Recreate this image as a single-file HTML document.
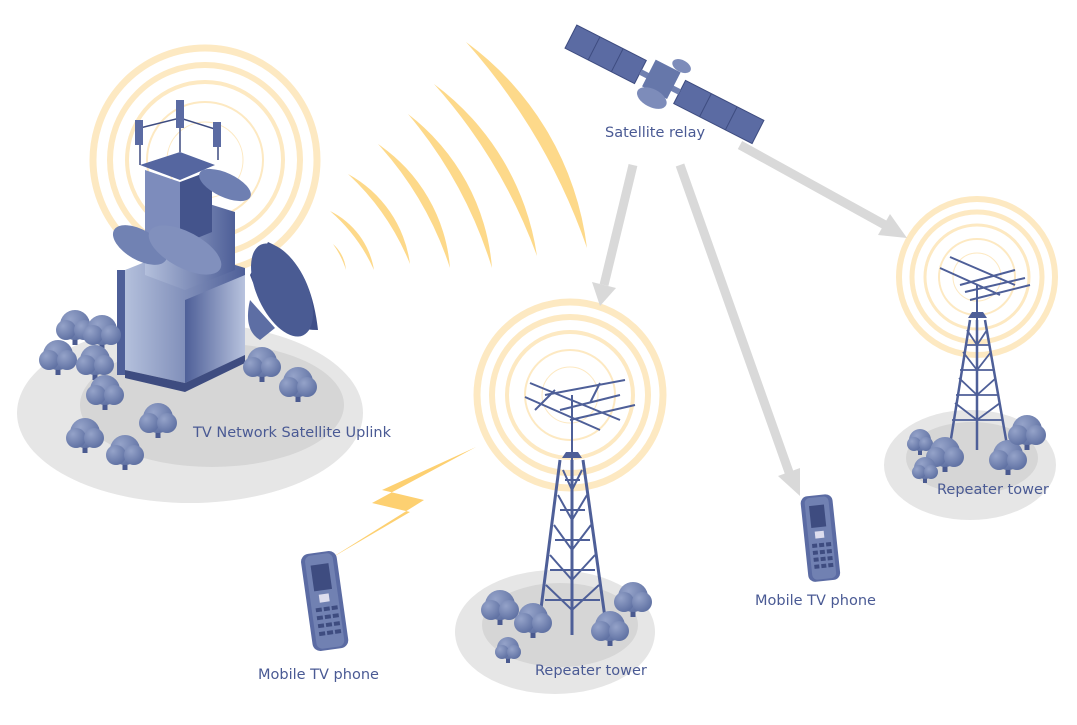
<!DOCTYPE html>
<html><head><meta charset="utf-8"><style>
html,body{margin:0;padding:0;background:#fff}
svg{display:block}
text{font-family:"DejaVu Sans","Liberation Sans",sans-serif;font-size:14.5px;fill:#4a5a94}
</style></head><body>
<svg width="1077" height="725" viewBox="0 0 1077 725" xmlns="http://www.w3.org/2000/svg">
<defs>
<linearGradient id="bl" x1="0" y1="0" x2="1" y2="0"><stop offset="0" stop-color="#b4c0dc"/><stop offset="1" stop-color="#4e5f98"/></linearGradient>
<linearGradient id="br" x1="0" y1="0" x2="1" y2="0"><stop offset="0" stop-color="#4e5f98"/><stop offset="1" stop-color="#b8c3de"/></linearGradient>
<radialGradient id="tr" cx="0.35" cy="0.3" r="0.8"><stop offset="0" stop-color="#95a3c9"/><stop offset="1" stop-color="#5a6c9f"/></radialGradient>
<g id="tree"><rect x="-2.5" y="8" width="5" height="12" fill="#4a5a90"/><circle cx="0" cy="0" r="15" fill="url(#tr)"/><circle cx="-9" cy="5" r="10" fill="url(#tr)"/><circle cx="9" cy="5" r="10" fill="url(#tr)"/></g>
<g id="stree"><rect x="-2" y="6" width="4" height="9" fill="#4a5a90"/><circle cx="0" cy="0" r="11" fill="url(#tr)"/><circle cx="-6" cy="4" r="7" fill="url(#tr)"/><circle cx="6" cy="4" r="7" fill="url(#tr)"/></g>
</defs>

<ellipse cx="190" cy="413" rx="173" ry="90" fill="#e6e6e6"/>
<ellipse cx="212" cy="405" rx="132" ry="62" fill="#d6d6d6"/>
<ellipse cx="555" cy="632" rx="100" ry="62" fill="#e6e6e6"/>
<ellipse cx="560" cy="625" rx="78" ry="42" fill="#d6d6d6"/>
<ellipse cx="970" cy="465" rx="86" ry="55" fill="#e6e6e6"/>
<ellipse cx="972" cy="458" rx="66" ry="36" fill="#d6d6d6"/>

<g fill="none" stroke="#fde9c2">
<circle cx="205" cy="160" r="112" stroke-width="7"/>
<circle cx="205" cy="160" r="95" stroke-width="6"/>
<circle cx="205" cy="160" r="78" stroke-width="4"/>
<circle cx="205" cy="160" r="58" stroke-width="2"/>
<circle cx="205" cy="160" r="38" stroke-width="1"/>
<circle cx="570" cy="395" r="93" stroke-width="7"/>
<circle cx="570" cy="395" r="78" stroke-width="6"/>
<circle cx="570" cy="395" r="63" stroke-width="4"/>
<circle cx="570" cy="395" r="45" stroke-width="2"/>
<circle cx="570" cy="395" r="28" stroke-width="1"/>
<circle cx="977" cy="277" r="78" stroke-width="6"/>
<circle cx="977" cy="277" r="65" stroke-width="5"/>
<circle cx="977" cy="277" r="52" stroke-width="3"/>
<circle cx="977" cy="277" r="38" stroke-width="2"/>
<circle cx="977" cy="277" r="24" stroke-width="1"/>
</g>

<g fill="#fdd98a">
<path d="M333,244 A40,40 0 0 1 346,270 A90,90 0 0 0 333,244 Z"/>
<path d="M330,211 A80,80 0 0 1 374,270 A170,170 0 0 0 330,211 Z"/>
<path d="M348,174 A120,120 0 0 1 410,264 A250,250 0 0 0 348,174 Z"/>
<path d="M378,144 A165,165 0 0 1 450,268 A340,340 0 0 0 378,144 Z"/>
<path d="M408,114 A215,215 0 0 1 492,268 A440,440 0 0 0 408,114 Z"/>
<path d="M434,84 A260,260 0 0 1 537,256 A530,530 0 0 0 434,84 Z"/>
<path d="M466,42 A300,300 0 0 1 587,248 A610,610 0 0 0 466,42 Z"/>
</g>

<g stroke="#d9d9d9" stroke-width="9" fill="#d9d9d9">
<line x1="633" y1="165" x2="604" y2="285"/>
<path d="M592,282 L616,288 L600,306 Z" stroke="none"/>
<line x1="680" y1="165" x2="790" y2="475"/>
<path d="M778,476 L800,468 L800,496 Z" stroke="none"/>
<line x1="740" y1="145" x2="885" y2="225"/>
<path d="M878,235 L890,214 L907,238 Z" stroke="none"/>
</g>

<path d="M476,447 L382,490 L424,500 L328,560 L410,512 L372,503 Z" fill="#fdd071"/>

<g transform="translate(660,82) rotate(27)">
<rect x="-100" y="-13" width="78" height="26" fill="#5b6ba3" stroke="#3e4c80"/>
<line x1="-74" y1="-13" x2="-74" y2="13" stroke="#3e4c80"/><line x1="-48" y1="-13" x2="-48" y2="13" stroke="#3e4c80"/>
<rect x="22" y="-13" width="88" height="26" fill="#5b6ba3" stroke="#3e4c80"/>
<line x1="51" y1="-13" x2="51" y2="13" stroke="#3e4c80"/><line x1="80" y1="-13" x2="80" y2="13" stroke="#3e4c80"/>
<rect x="-22" y="-3" width="44" height="6" fill="#7080b0"/>
<rect x="-14" y="-18" width="28" height="30" fill="#6677aa"/>
<ellipse cx="0" cy="18" rx="16" ry="9" fill="#7d8cba"/>
<ellipse cx="12" cy="-24" rx="10" ry="6" fill="#7d8cba"/>
</g>
<text x="605" y="137">Satellite relay</text>

<g>
<path d="M125,270 L180,248 L245,268 L245,355 L185,383 L125,370 Z" fill="url(#bl)"/>
<path d="M185,300 L245,275 L245,355 L185,383 Z" fill="url(#br)"/>
<path d="M125,370 L185,383 L245,355 L245,363 L185,392 L125,378 Z" fill="#3e4c80"/>
<rect x="117" y="270" width="8" height="105" fill="#4e5f98"/>
<path d="M145,215 L190,198 L235,212 L235,270 L185,290 L145,275 Z" fill="url(#bl)"/>
<path d="M140,165 L180,152 L215,165 L180,180 Z" fill="#5566a0"/>
<path d="M145,170 L180,182 L180,245 L145,232 Z" fill="#7d8cbc"/>
<path d="M180,182 L212,170 L212,232 L180,245 Z" fill="#44548c"/>
<g stroke="#3e4c80" stroke-width="1.5" fill="none"><path d="M140,128 L180,118 L218,130 M140,128 L140,165 M218,130 L218,160 M180,118 L180,152"/></g>
<rect x="135" y="120" width="8" height="25" fill="#5b6ba3"/><rect x="176" y="100" width="8" height="28" fill="#5b6ba3"/><rect x="213" y="122" width="8" height="25" fill="#5b6ba3"/>
<ellipse cx="225" cy="185" rx="28" ry="12" transform="rotate(25 225 185)" fill="#6e7fb2"/>
<ellipse cx="140" cy="245" rx="30" ry="15" transform="rotate(30 140 245)" fill="#7182b3"/>
<ellipse cx="185" cy="250" rx="40" ry="18" transform="rotate(28 185 250)" fill="#8190bd"/>
<path d="M268,242 Q310,260 318,330 Q270,330 250,275 Z" fill="#3f4f88"/>
<ellipse cx="282" cy="290" rx="25" ry="50" transform="rotate(-25 282 290)" fill="#4a5b93"/>
<path d="M250,300 Q243,330 260,340 L275,328 Z" fill="#5d6ea4"/>
</g>
<use href="#tree" x="75" y="325"/><use href="#tree" x="102" y="330"/>
<use href="#tree" x="58" y="355"/><use href="#tree" x="95" y="360"/>
<use href="#tree" x="105" y="390"/><use href="#tree" x="158" y="418"/>
<use href="#tree" x="85" y="433"/><use href="#tree" x="125" y="450"/>
<use href="#tree" x="262" y="362"/><use href="#tree" x="298" y="382"/>
<text x="193" y="437">TV Network Satellite Uplink</text>

<g stroke="#4e5f98" stroke-width="3" fill="none">
<path d="M560,460 L538,632 M583,460 L607,632 M572,460 L572,635"/>
<path d="M565,480 L580,480 M560,510 L585,510 M555,540 L590,540 M550,570 L595,570 M545,600 L600,600" stroke-width="2"/>
<path d="M563,470 L572,490 L582,470 M558,495 L572,520 L587,495 M554,525 L572,550 L591,525 M550,555 L572,580 L595,555 M546,585 L572,610 L599,585" stroke-width="2"/>
<path d="M572,460 L572,395" stroke-width="2"/>
<path d="M525,397 L600,430 M530,383 L620,420 M555,390 L535,410 M600,383 L590,403 M545,395 L625,380 M560,410 L620,395 M570,420 L635,405" stroke-width="2"/>
</g>
<path d="M562,458 L582,458 L578,452 L566,452 Z" fill="#4e5f98"/>
<use href="#tree" x="500" y="605"/><use href="#tree" x="533" y="618"/>
<use href="#tree" x="610" y="626"/><use href="#tree" x="633" y="597"/>
<use href="#stree" x="508" y="648"/>
<text x="535" y="675">Repeater tower</text>

<g stroke="#4e5f98" stroke-width="2.5" fill="none">
<path d="M970,320 L950,445 M985,320 L1007,445 M977,320 L977,450"/>
<path d="M965,345 L990,345 M960,370 L995,370 M956,395 L999,395 M952,420 L1003,420" stroke-width="1.8"/>
<path d="M967,330 L977,345 L987,330 M963,352 L977,370 L991,352 M959,378 L977,395 L996,378 M955,403 L977,420 L1000,403" stroke-width="1.8"/>
<path d="M977,320 L977,285" stroke-width="2"/>
<path d="M940,268 L1000,295 M950,257 L1015,285 M960,285 L1015,270 M965,292 L1025,278 M970,300 L1030,285" stroke-width="2"/>
</g>
<path d="M968,318 L987,318 L983,312 L972,312 Z" fill="#4e5f98"/>
<use href="#stree" x="920" y="440"/><use href="#tree" x="945" y="452"/>
<use href="#stree" x="925" y="468"/><use href="#tree" x="1008" y="455"/>
<use href="#tree" x="1027" y="430"/>
<text x="937" y="494">Repeater tower</text>

<g transform="translate(300,555) rotate(-8)">
<rect x="0" y="0" width="36" height="98" rx="8" fill="#5b6ba3"/>
<rect x="4" y="2" width="28" height="94" rx="6" fill="#7181b2"/>
<rect x="9" y="12" width="18" height="26" fill="#3e4c80"/>
<rect x="13" y="42" width="10" height="8" fill="#dde"/>
<g fill="#3e4c80"><rect x="8" y="55" width="6" height="4"/><rect x="16" y="55" width="6" height="4"/><rect x="24" y="55" width="6" height="4"/>
<rect x="8" y="63" width="6" height="4"/><rect x="16" y="63" width="6" height="4"/><rect x="24" y="63" width="6" height="4"/>
<rect x="8" y="71" width="6" height="4"/><rect x="16" y="71" width="6" height="4"/><rect x="24" y="71" width="6" height="4"/>
<rect x="8" y="79" width="6" height="4"/><rect x="16" y="79" width="6" height="4"/><rect x="24" y="79" width="6" height="4"/></g>
</g>
<text x="258" y="679">Mobile TV phone</text>

<g transform="translate(800,497) rotate(-6)">
<rect x="0" y="0" width="32" height="86" rx="7" fill="#5b6ba3"/>
<rect x="4" y="2" width="24" height="82" rx="5" fill="#7181b2"/>
<rect x="8" y="10" width="15" height="22" fill="#3e4c80"/>
<rect x="11" y="36" width="9" height="7" fill="#dde"/>
<g fill="#3e4c80"><rect x="7" y="48" width="5" height="4"/><rect x="14" y="48" width="5" height="4"/><rect x="21" y="48" width="5" height="4"/>
<rect x="7" y="55" width="5" height="4"/><rect x="14" y="55" width="5" height="4"/><rect x="21" y="55" width="5" height="4"/>
<rect x="7" y="62" width="5" height="4"/><rect x="14" y="62" width="5" height="4"/><rect x="21" y="62" width="5" height="4"/>
<rect x="7" y="69" width="5" height="4"/><rect x="14" y="69" width="5" height="4"/><rect x="21" y="69" width="5" height="4"/></g>
</g>
<text x="755" y="605">Mobile TV phone</text>
</svg>
</body></html>
